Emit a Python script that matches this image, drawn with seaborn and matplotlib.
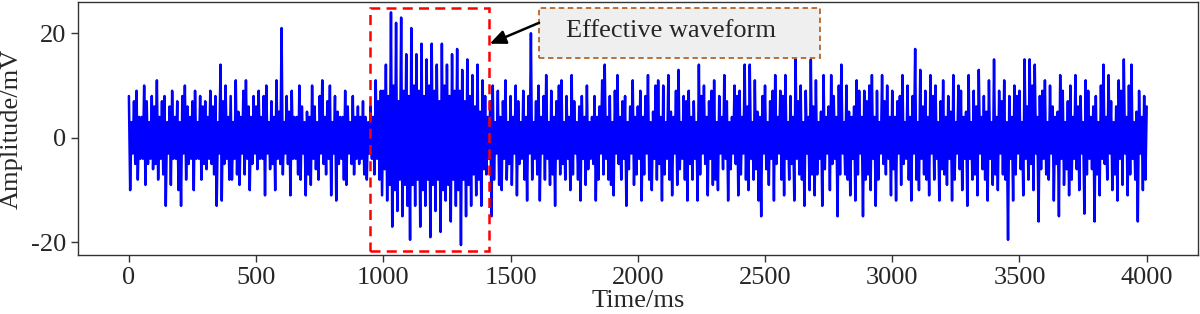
import numpy as np
import matplotlib
matplotlib.use("Agg")
import matplotlib.pyplot as plt
from matplotlib.patches import Rectangle
import seaborn as sns

# === data (mV) ===
# upper peaks at 0, 10, 20 ... 4000 ms
upper = [
    8, 3, 7, 9, 4, 4, 10, 7, 3, 8,
    6, 11, 4, 7, 8, 3, 6, 9, 4, 7,
    3, 8, 10, 6, 4, 7, 9, 3, 8, 6,
    7, 4, 9, 6, 8, 3, 14, 7, 10, 4,
    8, 3, 11, 5, 4, 9, 11, 6, 4, 8,
    6, 9, 4, 8, 10, 3, 7, 4, 11, 5,
    21, 3, 8, 5, 9, 4, 4, 10, 6, 3,
    5, 4, 10, 6, 3, 8, 11, 4, 7, 10,
    3, 8, 5, 4, 4, 9, 6, 3, 8, 4,
    6, 4, 7, 4, 3, 6, 4, 11, 7, 9,
    9, 14, 8, 24, 10, 22, 7, 23, 9, 16,
    8, 21, 10, 16, 9, 18, 8, 15, 10, 18,
    9, 14, 7, 18, 10, 14, 8, 16, 9, 17,
    9, 13, 7, 15, 8, 12, 6, 14, 5, 11,
    8, 4, 7, 10, 3, 9, 4, 7, 11, 3,
    8, 4, 10, 7, 3, 9, 4, 8, 20, 3,
    7, 10, 4, 8, 12, 3, 9, 4, 7, 10,
    11, 3, 8, 4, 12, 7, 3, 6, 8, 4,
    10, 3, 4, 8, 4, 6, 11, 14, 4, 8,
    3, 9, 12, 4, 7, 8, 3, 6, 11, 4,
    6, 9, 4, 8, 12, 3, 5, 10, 11, 4,
    10, 3, 12, 5, 4, 9, 13, 3, 8, 7,
    9, 4, 7, 3, 14, 8, 10, 4, 7, 9,
    11, 3, 8, 4, 12, 7, 3, 4, 10, 8,
    9, 4, 14, 6, 14, 3, 11, 5, 4, 8,
    10, 3, 7, 9, 12, 4, 9, 8, 12, 3,
    8, 4, 15, 7, 10, 3, 9, 4, 15, 6,
    11, 3, 5, 12, 4, 6, 12, 8, 4, 10,
    14, 3, 10, 5, 4, 6, 11, 9, 4, 9,
    7, 10, 12, 4, 9, 3, 12, 7, 10, 4,
    9, 4, 7, 8, 12, 3, 10, 4, 8, 17,
    3, 13, 6, 9, 4, 12, 8, 10, 3, 7,
    11, 4, 8, 5, 12, 3, 10, 9, 4, 5,
    12, 3, 9, 6, 13, 4, 8, 5, 11, 3,
    15, 4, 9, 7, 11, 3, 8, 4, 10, 8,
    9, 3, 15, 6, 15, 10, 14, 4, 8, 9,
    11, 3, 10, 6, 4, 5, 12, 9, 3, 7,
    10, 4, 12, 6, 8, 3, 11, 9, 4, 6,
    8, 3, 10, 14, 4, 12, 7, 3, 6, 11,
    9, 15, 4, 10, 14, 3, 5, 9, 4, 8,
    6,
]
# lower troughs at 5, 15, 25 ... 3995 ms
lower = [
    -10, -3, -5, -8, -4, -4, -9, -5, -4, -6,
    -5, -8, -4, -7, -13, -3, -9, -4, -4, -10,
    -13, -3, -8, -5, -4, -10, -4, -4, -8, -5,
    -6, -4, -5, -7, -13, -3, -12, -5, -4, -8,
    -8, -4, -7, -9, -3, -7, -4, -10, -5, -3,
    -6, -4, -4, -11, -3, -6, -5, -10, -4, -5,
    -7, -3, -5, -11, -4, -4, -7, -8, -3, -11,
    -7, -9, -4, -6, -8, -3, -5, -7, -4, -11,
    -3, -12, -5, -4, -8, -9, -3, -5, -7, -4,
    -5, -4, -7, -8, -3, -4, -7, -4, -8, -11,
    -6, -12, -9, -17, -10, -14, -8, -15, -9, -13,
    -19.5, -9, -13, -8, -17, -10, -13, -8, -19, -9,
    -14, -8, -18, -10, -12, -9, -16, -8, -13, -10,
    -20.5, -8, -15, -9, -13, -7, -11, -8, -13, -6,
    -7, -4, -15, -8, -3, -9, -10, -4, -8, -5,
    -9, -3, -11, -5, -4, -8, -12, -3, -8, -4,
    -7, -12, -3, -8, -4, -9, -7, -13, -4, -7,
    -5, -8, -4, -10, -7, -3, -8, -12, -4, -9,
    -6, -4, -5, -12, -8, -3, -7, -4, -8, -9,
    -11, -3, -5, -8, -4, -13, -6, -3, -9, -7,
    -4, -12, -7, -3, -8, -10, -4, -8, -5, -12,
    -7, -4, -8, -11, -3, -9, -6, -4, -8, -12,
    -5, -8, -4, -12, -7, -3, -5, -11, -4, -9,
    -8, -10, -3, -6, -4, -12, -6, -3, -5, -11,
    -7, -3, -8, -10, -4, -8, -6, -12, -15, -3,
    -6, -9, -4, -12, -5, -3, -8, -11, -4, -8,
    -5, -12, -4, -7, -8, -13, -3, -10, -7, -11,
    -7, -4, -13, -6, -3, -10, -5, -4, -15, -7,
    -3, -7, -8, -11, -4, -12, -7, -3, -15, -8,
    -7, -10, -4, -13, -8, -3, -5, -7, -4, -11,
    -6, -12, -3, -9, -5, -4, -8, -12, -3, -8,
    -10, -4, -7, -8, -11, -3, -8, -4, -12, -6,
    -7, -9, -4, -12, -8, -3, -6, -10, -4, -13,
    -4, -8, -7, -11, -3, -6, -8, -12, -4, -9,
    -7, -10, -3, -7, -8, -19.5, -4, -12, -7, -3,
    -6, -11, -4, -8, -5, -10, -3, -16, -6, -4,
    -7, -8, -3, -12, -5, -15, -4, -9, -6, -11,
    -8, -4, -6, -10, -3, -14.5, -7, -4, -6, -16,
    -7, -11, -4, -5, -8, -3, -10, -7, -12, -4,
    -9, -3, -11, -7, -4, -8, -16, -3, -10, -8,
]
step_ms = 5

x_ticks = [0, 500, 1000, 1500, 2000, 2500, 3000, 3500, 4000]
y_ticks = [-20, 0, 20]
note_text = "Effective waveform"

# peaks and troughs alternate in the trace
amplitude = np.empty(len(upper) + len(lower))
amplitude[0::2] = upper
amplitude[1::2] = lower
time_ms = np.arange(len(amplitude)) * step_ms

# === style ===
sns.set_theme(style="ticks")
plt.rcParams["font.family"] = ["Liberation Serif", "DejaVu Serif"]
plt.rcParams["axes.unicode_minus"] = False

fig, ax = plt.subplots(figsize=(12, 3.14), dpi=100)
fig.subplots_adjust(left=0.065, right=0.998, top=0.994, bottom=0.188)

sns.lineplot(x=time_ms, y=amplitude, ax=ax, color="#0000ff",
             linewidth=1.8, estimator=None)

ax.set_xlim(-200, 4200)
ax.set_ylim(-22.4, 26.0)
ax.set_xticks(x_ticks)
ax.set_yticks(y_ticks)
ax.tick_params(labelsize=19, length=5, width=1, color="#333333")
ax.set_xlabel("Time/ms", fontsize=19, labelpad=1)
ax.set_ylabel("Amplitude/mV", fontsize=19, labelpad=6)
for sp in ax.spines.values():
    sp.set_visible(True)
    sp.set_color("#333333")
    sp.set_linewidth(1.0)

# red dashed box round the effective waveform
ax.add_patch(Rectangle((947, -21.6), 1414 - 947, 24.9 + 21.6, fill=False,
                       edgecolor="#ff0000", linestyle=(0, (4, 2.5)),
                       linewidth=1.8, zorder=5))

# annotation box + arrow
ax.add_patch(Rectangle((1612, 15.3), 2718 - 1612, 24.9 - 15.3,
                       facecolor="#efefef", edgecolor="#b5652a",
                       linestyle=(0, (3, 2)), linewidth=1.3, zorder=6))
ax.text(2130, 20.5, note_text, fontsize=19, ha="center", va="center", zorder=7)
ax.annotate("", xy=(1418, 18.0), xytext=(1612, 22.0),
            arrowprops=dict(arrowstyle="-|>,head_length=0.8,head_width=0.35",
                            color="black", linewidth=1.8, shrinkA=0, shrinkB=0),
            zorder=7)

plt.savefig("out.png", dpi=100)
plt.close()
